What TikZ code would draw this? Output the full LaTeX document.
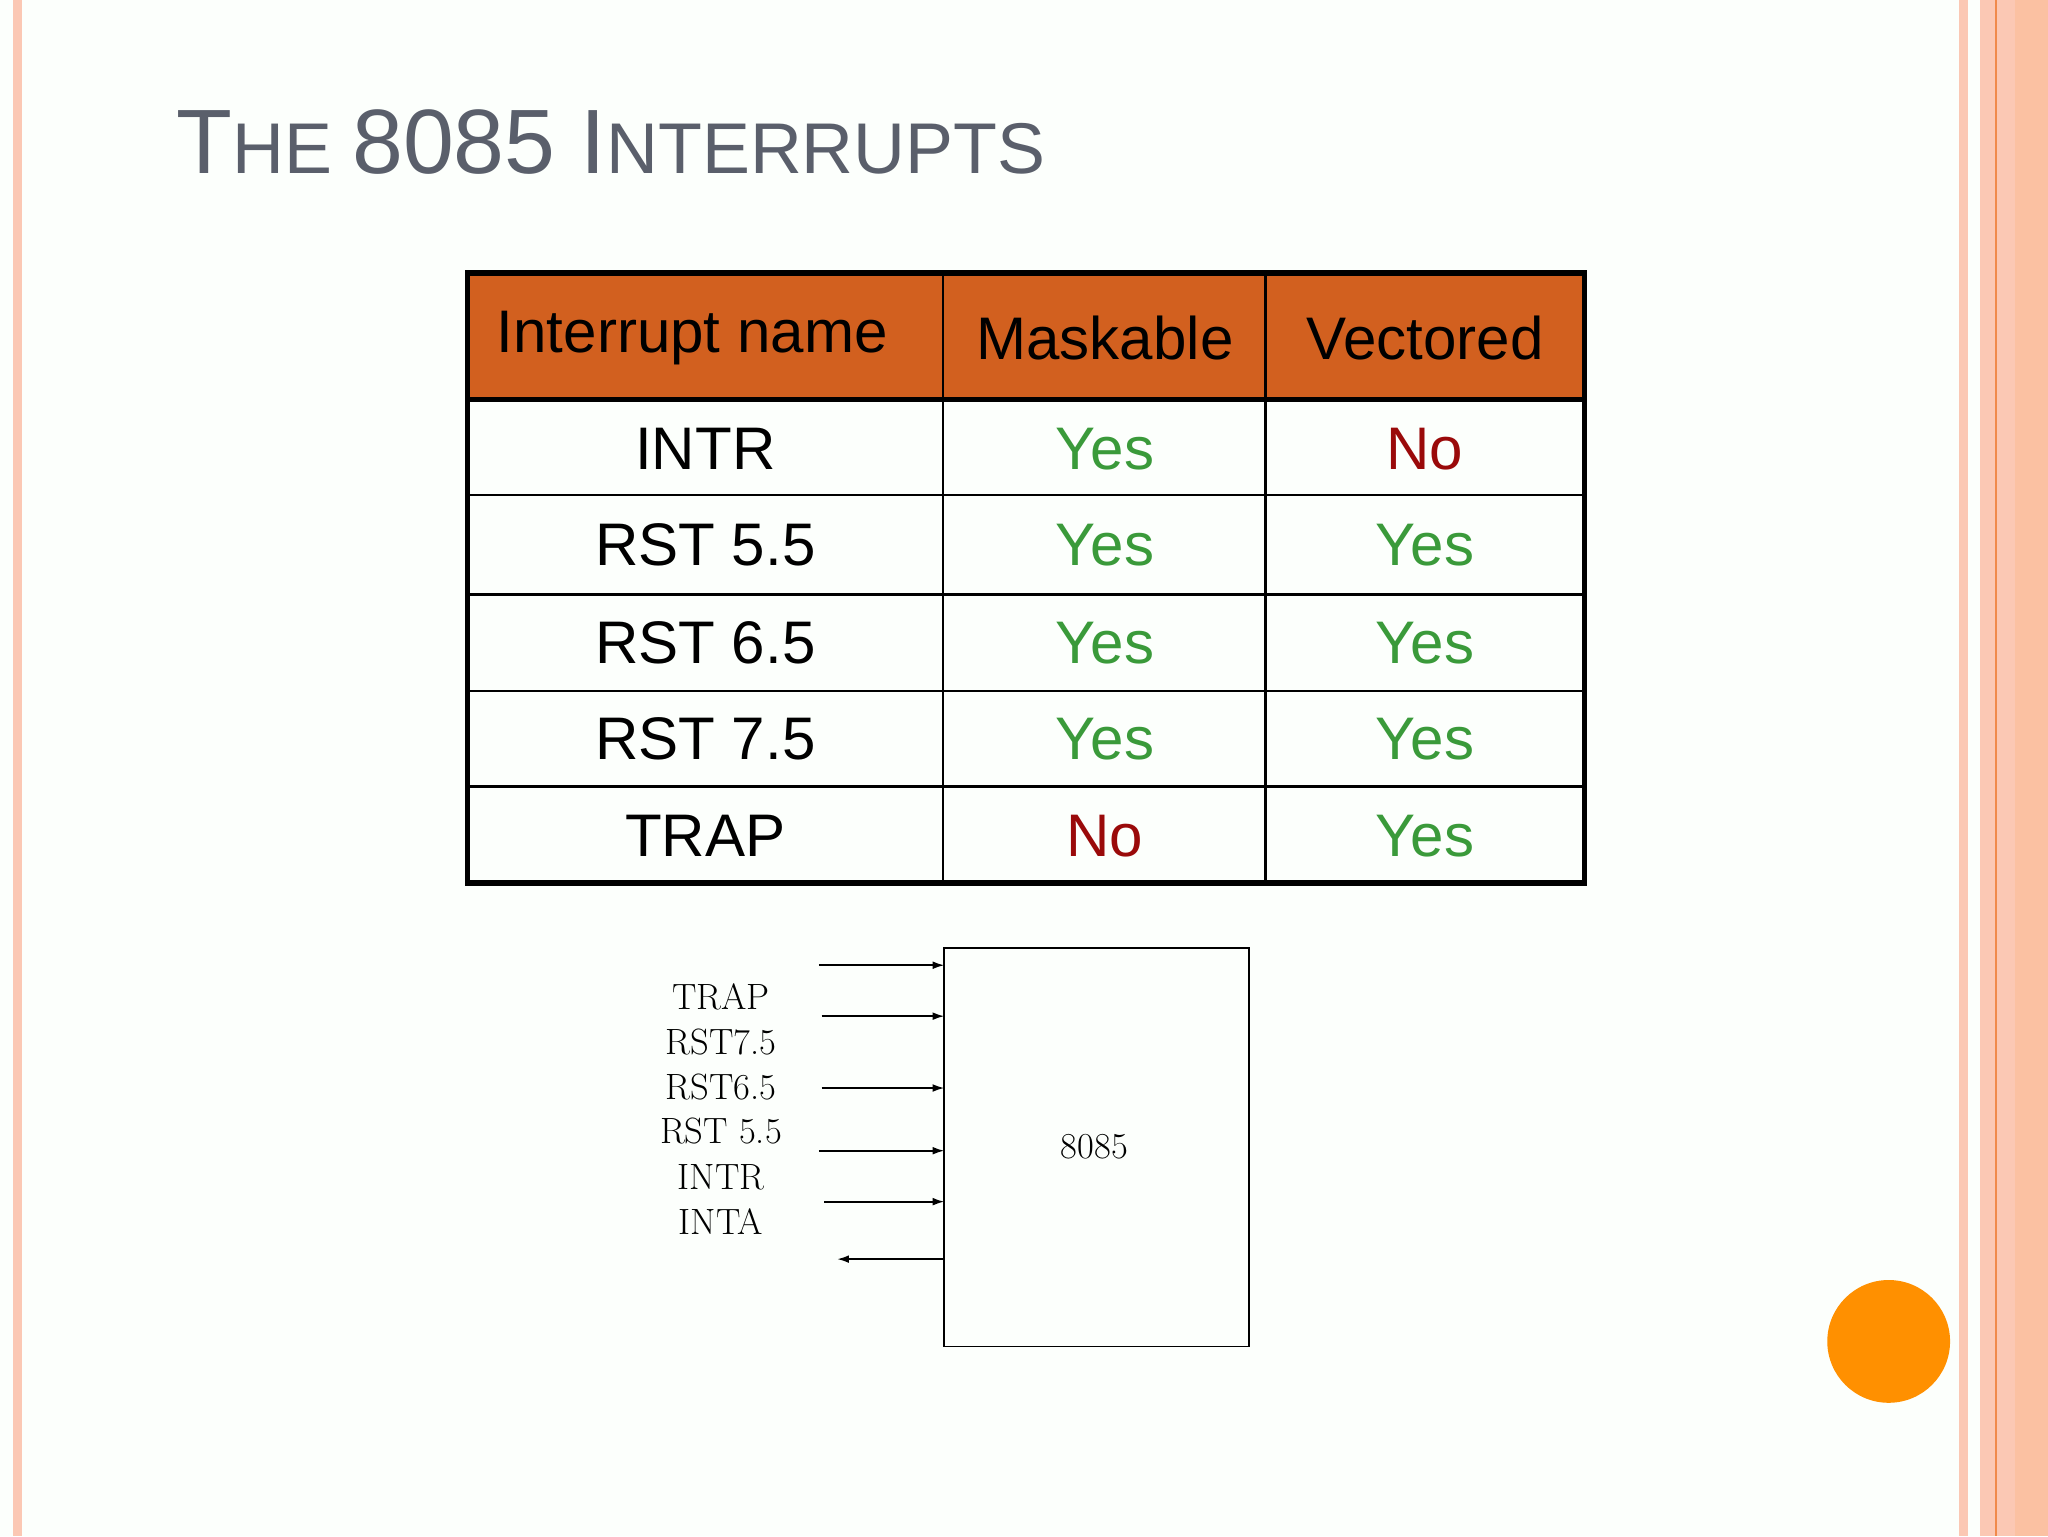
\documentclass[tikz,border=0pt]{standalone}
\usepackage{fontspec}
\setmainfont{Latin Modern Roman}
\newfontfamily\sans{Liberation Sans}
\usetikzlibrary{arrows.meta}
\definecolor{hdr}{HTML}{D2601F}
\definecolor{pinkb}{HTML}{FBC8B4}
\definecolor{oline}{HTML}{F08A4B}
\definecolor{yesc}{HTML}{3A9A3A}
\definecolor{noc}{HTML}{9A0A0A}
\definecolor{ttl}{HTML}{5A5F6B}
\begin{document}
\begin{tikzpicture}[x=1pt,y=-1pt,
  cell/.style={font=\sans\fontsize{46}{46}\selectfont},
  yes/.style={cell,text=yesc}, no/.style={cell,text=noc},
  sig/.style={font=\fontsize{28}{28}\selectfont},
  arr/.style={-{Latex[length=9pt,width=6pt]},line width=1.3pt}]
\useasboundingbox (0,0) rectangle (1568,1176);
\fill[white!98!green!50!white] (0,0) rectangle (1568,1176);
\fill[pinkb] (10,0) rectangle (17,1176);
\fill[pinkb] (1500,0) rectangle (1507,1176);
\fill[pinkb] (1516,0) rectangle (1568,1176);
\fill[pinkb!90!orange] (1543,0) rectangle (1568,1176);
\draw[oline,line width=1.2pt] (1528,0) -- (1528,1176);
\node[anchor=base west,text=ttl,font=\sans,inner sep=0] (title) at (135,133)
  {\fontsize{70}{70}\selectfont T\fontsize{55}{55}\selectfont HE \fontsize{70}{70}\selectfont 8085 I\fontsize{55}{55}\selectfont NTERRUPTS};
% table
\fill[hdr] (358,209) rectangle (1213,306);
\foreach \y in {379,455,529,602} \draw[line width=2pt] (358,\y) -- (1213,\y);
\draw[line width=2pt] (722,209) -- (722,676);
\draw[line width=2pt] (969,209) -- (969,676);
\draw[line width=4pt] (358,306) -- (1213,306);
\draw[line width=4pt] (358,209) rectangle (1213,676);
\node[cell] (h1) at (530,259) {Interrupt name};
\node[cell] (h2) at (846,259) {Maskable};
\node[cell] (h3) at (1091,259) {Vectored};
\node[cell] (r1) at (540,344) {INTR}; \node[yes] (m1) at (846,344) {Yes}; \node[no] (v1) at (1091,344) {No};
\node[cell] (r2) at (540,417) {RST 5.5}; \node[yes] (m2) at (846,417) {Yes}; \node[yes] (v2) at (1091,417) {Yes};
\node[cell] (r3) at (540,492) {RST 6.5}; \node[yes] (m3) at (846,492) {Yes}; \node[yes] (v3) at (1091,492) {Yes};
\node[cell] (r4) at (540,566) {RST 7.5}; \node[yes] (m4) at (846,566) {Yes}; \node[yes] (v4) at (1091,566) {Yes};
\node[cell] (r5) at (540,640) {TRAP}; \node[no] (m5) at (846,640) {No}; \node[yes] (v5) at (1091,640) {Yes};
% diagram
\draw[line width=1.3pt] (723,726) rectangle (956,1031);
\node[sig] (cpu) at (838,878) {8085};
\node[sig] at (552,763) {TRAP};
\node[sig] at (552,798) {RST7.5};
\node[sig] at (552,832) {RST6.5};
\node[sig] at (552,866) {RST 5.5};
\node[sig] at (552,901) {INTR};
\node[sig] at (552,935) {INTA};
\foreach \y/\x in {739/627,778/629,833/629,881/627,920/631}
  \draw[arr] (\x,\y) -- (723,\y);
\draw[arr] (723,964) -- (641,964);
\fill[orange!75!yellow!90!red] (1446,1027) circle (47);
\end{tikzpicture}
\end{document}
